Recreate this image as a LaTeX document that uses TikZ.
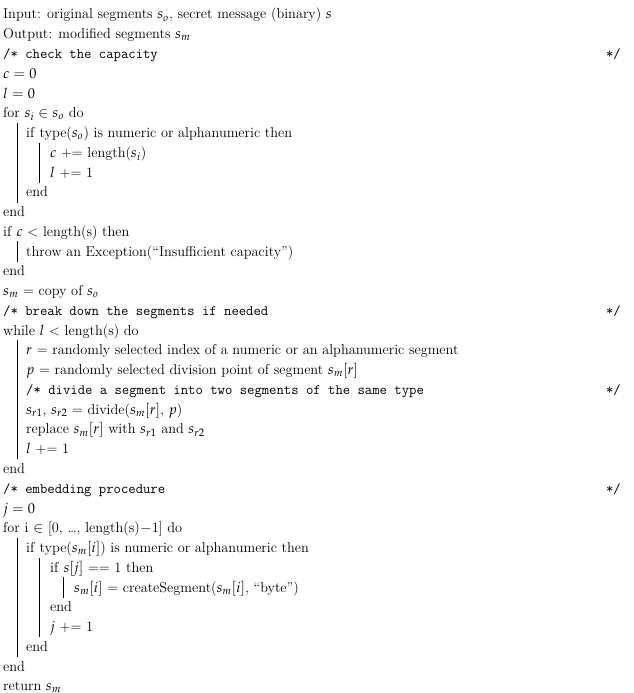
\documentclass[tikz,border=0pt]{standalone}
\usepackage{mathpazo}
\tikzset{ln/.style={anchor=base west,inner sep=0pt,font=\fontsize{14.3}{17}\selectfont},
 cmt/.style={anchor=base east,inner sep=0pt,font=\fontsize{14.3}{17}\ttfamily},
 bar/.style={line width=0.6pt}}
\newcommand{\kw}[1]{\textbf{#1}}
\begin{document}
\begin{tikzpicture}[x=1pt,y=-1pt]
\useasboundingbox (0,0) rectangle (634,693);
\def\A{3}\def\B{26}\def\C{50}\def\D{74}
\newcommand\myln[4]{\node[ln] (#1) at (#2,{19+#3*19.76}) {#4};}
\myln{l0}{\A}{0}{\kw{Input:} original segments $s_o$, secret message (binary) $s$}
\myln{l1}{\A}{1}{\kw{Output:} modified segments $s_m$}
\myln{l2}{\A}{2}{\ttfamily /* check the capacity}
\node[cmt] (c2) at (621,{19+2*19.76}) {*/};
\myln{l3}{\A}{3}{$c = 0$}
\myln{l4}{\A}{4}{$l = 0$}
\myln{l5}{\A}{5}{\kw{for} $s_i \in s_o$ \kw{do}}
\myln{l6}{\B}{6}{\kw{if} \textit{type($s_o$) is numeric or alphanumeric} \kw{then}}
\myln{l7}{\C}{7}{$c$ += length($s_i$)}
\myln{l8}{\C}{8}{$l$ += 1}
\myln{l9}{\B}{9}{\kw{end}}
\myln{l10}{\A}{10}{\kw{end}}
\myln{l11}{\A}{11}{\kw{if} $c$ < \textit{length(s)} \kw{then}}
\myln{l12}{\B}{12}{throw an Exception(``Insufficient capacity'')}
\myln{l13}{\A}{13}{\kw{end}}
\myln{l14}{\A}{14}{$s_m$ = copy of $s_o$}
\myln{l15}{\A}{15}{\ttfamily /* break down the segments if needed}
\node[cmt] (c15) at (621,{19+15*19.76}) {*/};
\myln{l16}{\A}{16}{\kw{while} $l$ < \textit{length(s)} \kw{do}}
\myln{l17}{\B}{17}{$r$ = randomly selected index of a numeric or an alphanumeric segment}
\myln{l18}{\B}{18}{$p$ = randomly selected division point of segment $s_m[r]$}
\myln{l19}{\B}{19}{\ttfamily /* divide a segment into two segments of the same type}
\node[cmt] (c19) at (621,{19+19*19.76}) {*/};
\myln{l20}{\B}{20}{$s_{r1}$, $s_{r2}$ = divide($s_m[r]$, $p$)}
\myln{l21}{\B}{21}{replace $s_m[r]$ with $s_{r1}$ and $s_{r2}$}
\myln{l22}{\B}{22}{$l$ += 1}
\myln{l23}{\A}{23}{\kw{end}}
\myln{l24}{\A}{24}{\ttfamily /* embedding procedure}
\node[cmt] (c24) at (621,{19+24*19.76}) {*/};
\myln{l25}{\A}{25}{$j = 0$}
\myln{l26}{\A}{26}{\kw{for} \textit{i} $\in$ \textit{[0, \dots, length(s)$-$1]} \kw{do}}
\myln{l27}{\B}{27}{\kw{if} \textit{type($s_m[i]$) is numeric or alphanumeric} \kw{then}}
\myln{l28}{\C}{28}{\kw{if} $s[j]$ == \textit{1} \kw{then}}
\myln{l29}{\D}{29}{$s_m[i]$ = createSegment($s_m[i]$, ``byte'')}
\myln{l30}{\C}{30}{\kw{end}}
\myln{l31}{\C}{31}{$j$ += 1}
\myln{l32}{\B}{32}{\kw{end}}
\myln{l33}{\A}{33}{\kw{end}}
\myln{l34}{\A}{34}{\kw{return} $s_m$}
\newcommand\mybar[3]{\draw[bar] (#1,{19+#2*19.76+5}) -- (#1,{19+#3*19.76-14});}
\mybar{17}{5}{10}
\mybar{39}{6}{9}
\mybar{17}{11}{13}
\mybar{17}{16}{23}
\mybar{17}{26}{33}
\mybar{39}{27}{32}
\mybar{63}{28}{30}
\end{tikzpicture}
\end{document}
